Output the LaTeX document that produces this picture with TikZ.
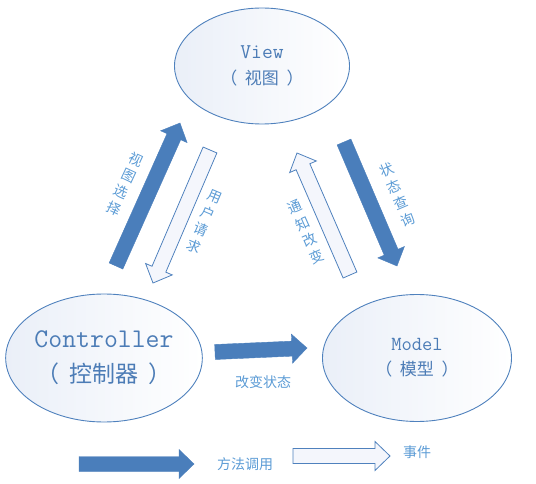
\documentclass[tikz,border=0pt]{standalone}
\usepackage{fontspec}
\newfontfamily\cjk{Noto Sans CJK SC}
\usepackage{tikz}
\usetikzlibrary{shapes.geometric,calc}
\definecolor{arrowblue}{RGB}{74,126,187}
\definecolor{lineblue}{RGB}{79,129,189}
\definecolor{textblue}{RGB}{76,124,182}
\definecolor{labelblue}{RGB}{91,155,213}
\definecolor{ellfill}{RGB}{234,239,248}
\definecolor{hollowfill}{RGB}{244,246,252}
\newcommand{\lpar}{\hspace*{-0.45em}（\hspace*{0.45em}}
\newcommand{\rpar}{\hspace*{0.45em}）\hspace*{-0.45em}}
\tikzset{
	ellip/.style={draw=lineblue, line width=0.9pt, ellipse, inner sep=0pt, left color=ellfill, right color=white, text=textblue, align=center},
	blockarrow/.style={to path={
		let \p1=(\tikztostart), \p2=(\tikztotarget),
		\n1={atan2(\y2-\y1,\x2-\x1)}, \n2={veclen(\x2-\x1,\y2-\y1)} in
		($(\p1)+(\n1+90:7.5pt)$) -- ($(\p1)+(\n1:\n2-15pt)+(\n1+90:7.5pt)$)
		-- ($(\p1)+(\n1:\n2-15pt)+(\n1+90:14.5pt)$) -- (\p2)
		-- ($(\p1)+(\n1:\n2-15pt)+(\n1-90:14.5pt)$)
		-- ($(\p1)+(\n1:\n2-15pt)+(\n1-90:7.5pt)$)
		-- ($(\p1)+(\n1-90:7.5pt)$) -- cycle}},
	solidarrow/.style={blockarrow, draw=arrowblue, line width=0.4pt, fill=arrowblue},
	hollowarrow/.style={blockarrow, draw=lineblue, line width=0.8pt, fill=hollowfill},
	lab/.style={text=labelblue, font=\cjk\fontsize{14}{18}\selectfont, align=center, inner sep=0pt},
}

\begin{document}
\begin{tikzpicture}[x=1pt, y=-1pt]
	\useasboundingbox (0,0) rectangle (536,484);
	
	\node[ellip, minimum width=175pt, minimum height=116pt, font=\fontsize{18}{26}\selectfont](VIEW) at (262,66){{\ttfamily\fontsize{21}{26}\selectfont View}\\{\cjk\fontsize{17}{26}\selectfont \lpar 视图\rpar}};
	\node[ellip, below of=VIEW, node distance=292pt, xshift=-158pt, minimum width=188pt, minimum height=128pt, font=\fontsize{24}{35}\selectfont](CTRL){{\ttfamily\fontsize{27}{35}\selectfont Controller}\\{\cjk\fontsize{23}{35}\selectfont \lpar 控制器\rpar}};
	\node[ellip, right of=CTRL, node distance=313pt, minimum width=189pt, minimum height=127pt, font=\fontsize{18}{25}\selectfont](MODEL){{\ttfamily\fontsize{20}{25}\selectfont Model}\\{\cjk\fontsize{17}{25}\selectfont \lpar 模型\rpar}};
	
	\coordinate (S1) at (116,266);
	\coordinate (T1) at (180,123);
	\coordinate (S2) at (210,150);
	\coordinate (T2) at (153,283);
	\coordinate (S3) at (350,275);
	\coordinate (T3) at (297,153);
	\coordinate (S4) at (344,142);
	\coordinate (T4) at (397,266);
	\coordinate (S5) at (215,352);
	\coordinate (T5) at (307,348);
	
	\draw[solidarrow] (S1) to (T1);
	\draw[hollowarrow] (S2) to (T2);
	\draw[hollowarrow] (S3) to (T3);
	\draw[solidarrow] (S4) to (T4);
	\draw[solidarrow] (S5) to (T5);
	
	\node[lab, rotate=-25](LAB1) at (125,184){视\\图\\选\\择};
	\node[lab, rotate=-23](LAB2) at (204,222){用\\户\\请\\求};
	\node[lab, rotate=24](LAB3) at (306,232){通\\知\\改\\变};
	\node[lab, rotate=23](LAB4) at (397,195){状\\态\\查\\询};
	\node[lab](LAB5) at (263,382){改变状态};
	
	\coordinate (LS1) at (79,464);
	\coordinate[right of=LS1, node distance=115pt] (LT1);
	\coordinate (LS2) at (293,456);
	\coordinate[right of=LS2, node distance=97pt] (LT2);
	
	\draw[solidarrow] (LS1) to (LT1);
	\draw[hollowarrow] (LS2) to (LT2);
	
	\node[lab, right of=LT1, node distance=51pt](LEG1){方法调用};
	\node[lab, right of=LT2, node distance=27pt, yshift=4pt](LEG2){事件};
\end{tikzpicture}
\end{document}
